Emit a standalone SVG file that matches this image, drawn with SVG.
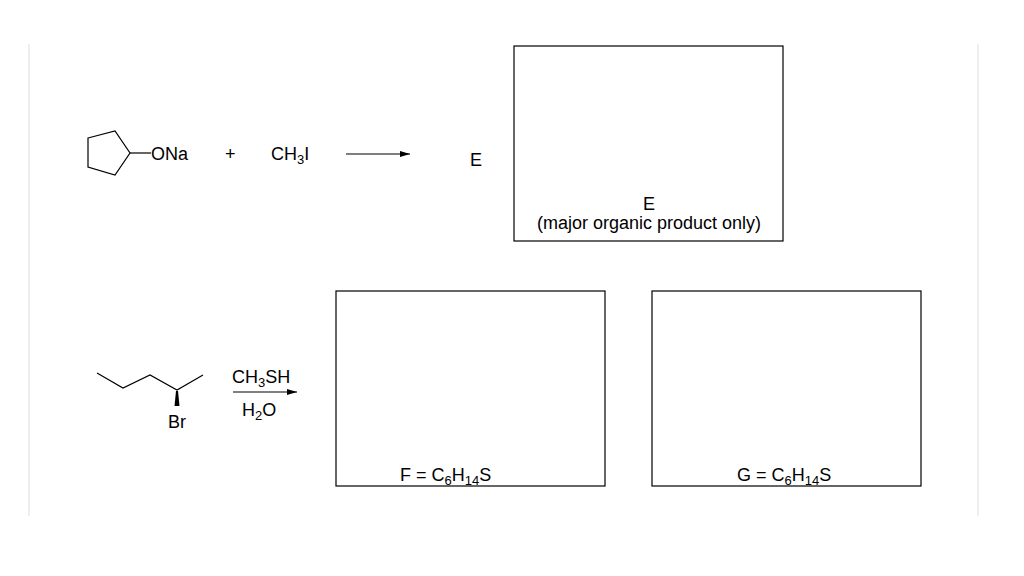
<svg xmlns="http://www.w3.org/2000/svg" width="1024" height="576" viewBox="0 0 1024 576">
<style>
text{font-family:"Liberation Sans",Arial,sans-serif;font-size:18px;fill:#000}
.s{font-size:13px}
.b{fill:none;stroke:#000;stroke-width:1.2}
.box{fill:#fff;stroke:#000;stroke-width:1.2}
</style>
<defs><marker id="ah" markerWidth="10" markerHeight="6" refX="10" refY="3" orient="auto" markerUnits="userSpaceOnUse"><path d="M0,0 L10,3 L0,6 Z" fill="#000"/></marker></defs>
<rect width="1024" height="576" fill="#fff"/>
<line x1="29" y1="44" x2="29" y2="516" stroke="#ddd"/>
<line x1="978" y1="44" x2="978" y2="516" stroke="#ddd"/>
<g id="cyclopentoxide">
<polygon class="b" points="88,138 115,131 130,153 115,175 88,167"/>
<line class="b" x1="130" y1="153" x2="151" y2="153"/>
<text x="151" y="160">ONa</text>
</g>
<g id="plus"><text x="225" y="160">+</text></g>
<g id="ch3i"><text x="271" y="160">CH<tspan class="s" dy="4">3</tspan><tspan dy="-4">I</tspan></text></g>
<g id="E-label"><text x="470" y="166">E</text></g>
<g id="boxE"><rect class="box" x="514" y="46" width="269" height="195"/>
<text x="649" y="210" text-anchor="middle">E</text>
<text x="649" y="229" text-anchor="middle">(major organic product only)</text></g>
<g id="bromopentane">
<polyline class="b" points="97,373 123,388 150,375 177,390 203,375"/>
<polygon points="176,391 178,391 179.5,406 174.5,406" fill="#000"/>
<text x="177" y="428" text-anchor="middle">Br</text>
</g>
<g id="reagents"><text x="232" y="383">CH<tspan class="s" dy="4">3</tspan><tspan dy="-4">SH</tspan></text>
<text x="242" y="416">H<tspan class="s" dy="4">2</tspan><tspan dy="-4">O</tspan></text></g>
<g id="boxF"><rect class="box" x="336" y="291" width="269" height="195"/>
<text x="400" y="481">F = C<tspan class="s" dy="4">6</tspan><tspan dy="-4">H</tspan><tspan class="s" dy="4">14</tspan><tspan dy="-4">S</tspan></text></g>
<g id="boxG"><rect class="box" x="652" y="291" width="269" height="195"/>
<text x="737" y="481">G = C<tspan class="s" dy="4">6</tspan><tspan dy="-4">H</tspan><tspan class="s" dy="4">14</tspan><tspan dy="-4">S</tspan></text></g>
<g id="connectors">
<line class="b" x1="346" y1="154" x2="410" y2="154" marker-end="url(#ah)"/>
<line class="b" x1="233" y1="392" x2="297" y2="392" marker-end="url(#ah)"/>
</g>
</svg>
